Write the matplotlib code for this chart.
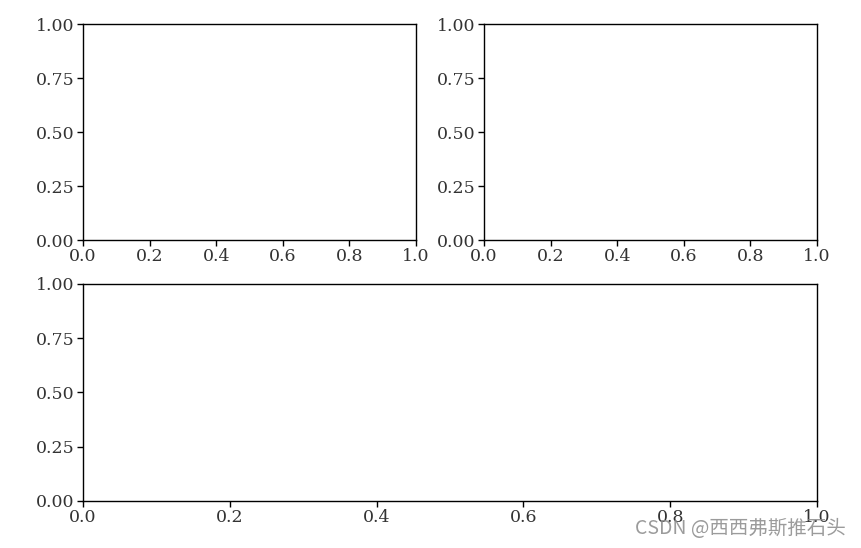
import matplotlib
matplotlib.use("Agg")
import matplotlib.pyplot as plt

# Tick values shown on the empty axes.
x_ticks = [0.0, 0.2, 0.4, 0.6, 0.8, 1.0]
x_labels = ["0.0", "0.2", "0.4", "0.6", "0.8", "1.0"]
y_ticks = [0.00, 0.25, 0.50, 0.75, 1.00]
y_labels = ["0.00", "0.25", "0.50", "0.75", "1.00"]
watermark = "CSDN @西西弗斯推石头"

plt.rcParams["font.family"] = ["DejaVu Serif"]
plt.rcParams["font.size"] = 12.5

fig = plt.figure(figsize=(8.61, 5.48), dpi=100)

ax1 = fig.add_axes([0.0964, 0.562, 0.3868, 0.394])
ax2 = fig.add_axes([0.5621, 0.562, 0.3868, 0.394])
ax3 = fig.add_axes([0.0964, 0.0858, 0.8525, 0.396])

for ax in (ax1, ax2, ax3):
    ax.set_xlim(0, 1)
    ax.set_ylim(0, 1)
    ax.set_xticks(x_ticks)
    ax.set_xticklabels(x_labels)
    ax.set_yticks(y_ticks)
    ax.set_yticklabels(y_labels)
    ax.tick_params(length=4, width=1, pad=2, labelcolor="#333333")
    for spine in ax.spines.values():
        spine.set_linewidth(1.0)

fig.text(0.982, 0.036, watermark, ha="right", va="center", fontsize=14,
         color="#8a8a8a", alpha=0.85,
         family=["Noto Sans CJK SC", "DejaVu Sans"])

fig.savefig("out.png", dpi=100)
